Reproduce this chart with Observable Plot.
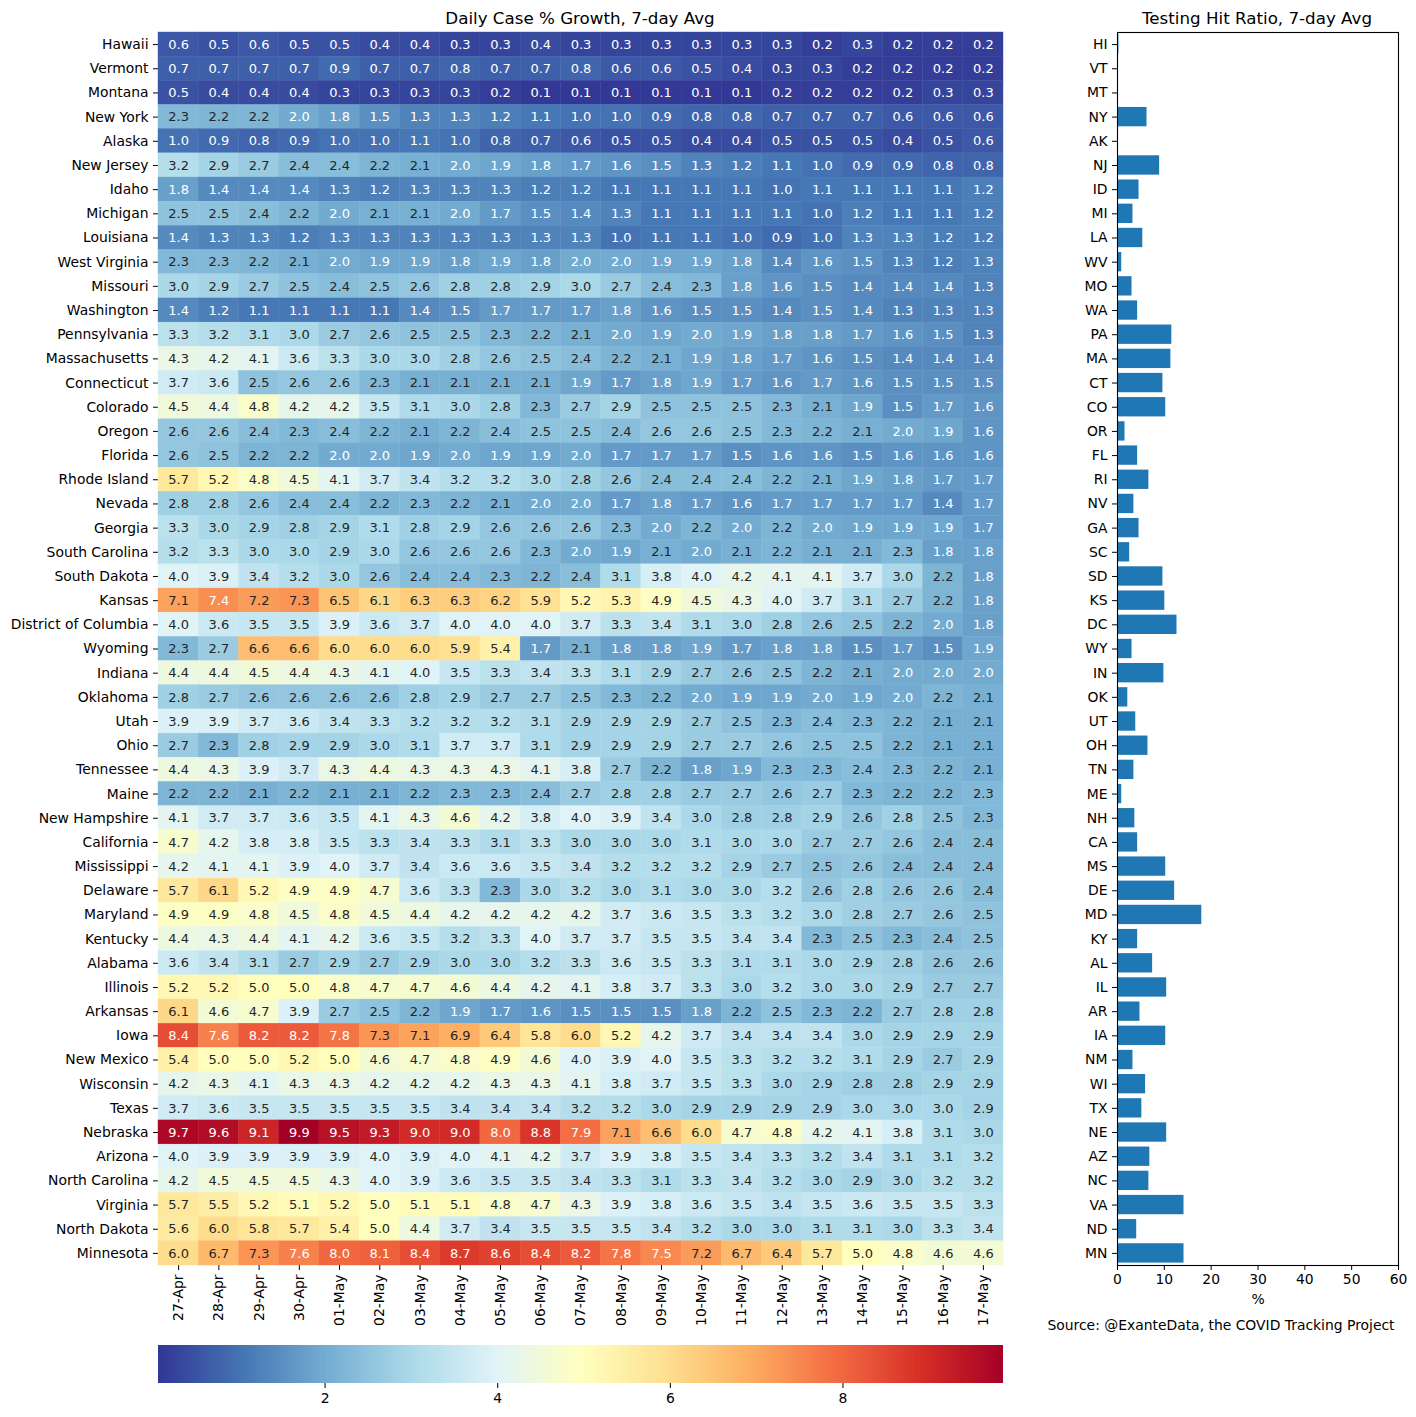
<!DOCTYPE html>
<html>
<head>
<meta charset="utf-8">
<script src="https://cdn.jsdelivr.net/npm/d3@7"></script>
<script src="https://cdn.jsdelivr.net/npm/@observablehq/plot@0.6"></script>
<style>
  body { margin: 0; background: #fff; font-family: "DejaVu Sans", sans-serif; }
  #fig { position: relative; width: 1416px; height: 1417px; overflow: hidden; }
  #fig > svg, #fig > div { position: absolute; }
  .title { font-size: 16.7px; line-height: 1; color: #000; white-space: nowrap; transform: translateX(-50%); }
  .caption { font-size: 13.9px; line-height: 1; color: #000; white-space: nowrap; transform: translateX(-50%); }
</style>
</head>
<body>
<div id="fig"></div>
<script>
// Dates (columns of the heatmap)
const dates = ["27-Apr","28-Apr","29-Apr","30-Apr","01-May","02-May","03-May","04-May","05-May","06-May",
  "07-May","08-May","09-May","10-May","11-May","12-May","13-May","14-May","15-May","16-May","17-May"];

// States, sorted by latest growth rate
const states = ["Hawaii","Vermont","Montana","New York","Alaska","New Jersey","Idaho","Michigan","Louisiana",
  "West Virginia","Missouri","Washington","Pennsylvania","Massachusetts","Connecticut","Colorado","Oregon",
  "Florida","Rhode Island","Nevada","Georgia","South Carolina","South Dakota","Kansas","District of Columbia",
  "Wyoming","Indiana","Oklahoma","Utah","Ohio","Tennessee","Maine","New Hampshire","California","Mississippi",
  "Delaware","Maryland","Kentucky","Alabama","Illinois","Arkansas","Iowa","New Mexico","Wisconsin","Texas",
  "Nebraska","Arizona","North Carolina","Virginia","North Dakota","Minnesota"];

const abbrevs = ["HI","VT","MT","NY","AK","NJ","ID","MI","LA","WV","MO","WA","PA","MA","CT","CO","OR","FL","RI",
  "NV","GA","SC","SD","KS","DC","WY","IN","OK","UT","OH","TN","ME","NH","CA","MS","DE","MD","KY","AL","IL",
  "AR","IA","NM","WI","TX","NE","AZ","NC","VA","ND","MN"];

// Daily case % growth, 7-day average (one row per state, one value per date)
const growth = [
  [0.6,0.5,0.6,0.5,0.5,0.4,0.4,0.3,0.3,0.4,0.3,0.3,0.3,0.3,0.3,0.3,0.2,0.3,0.2,0.2,0.2],
  [0.7,0.7,0.7,0.7,0.9,0.7,0.7,0.8,0.7,0.7,0.8,0.6,0.6,0.5,0.4,0.3,0.3,0.2,0.2,0.2,0.2],
  [0.5,0.4,0.4,0.4,0.3,0.3,0.3,0.3,0.2,0.1,0.1,0.1,0.1,0.1,0.1,0.2,0.2,0.2,0.2,0.3,0.3],
  [2.3,2.2,2.2,2.0,1.8,1.5,1.3,1.3,1.2,1.1,1.0,1.0,0.9,0.8,0.8,0.7,0.7,0.7,0.6,0.6,0.6],
  [1.0,0.9,0.8,0.9,1.0,1.0,1.1,1.0,0.8,0.7,0.6,0.5,0.5,0.4,0.4,0.5,0.5,0.5,0.4,0.5,0.6],
  [3.2,2.9,2.7,2.4,2.4,2.2,2.1,2.0,1.9,1.8,1.7,1.6,1.5,1.3,1.2,1.1,1.0,0.9,0.9,0.8,0.8],
  [1.8,1.4,1.4,1.4,1.3,1.2,1.3,1.3,1.3,1.2,1.2,1.1,1.1,1.1,1.1,1.0,1.1,1.1,1.1,1.1,1.2],
  [2.5,2.5,2.4,2.2,2.0,2.1,2.1,2.0,1.7,1.5,1.4,1.3,1.1,1.1,1.1,1.1,1.0,1.2,1.1,1.1,1.2],
  [1.4,1.3,1.3,1.2,1.3,1.3,1.3,1.3,1.3,1.3,1.3,1.0,1.1,1.1,1.0,0.9,1.0,1.3,1.3,1.2,1.2],
  [2.3,2.3,2.2,2.1,2.0,1.9,1.9,1.8,1.9,1.8,2.0,2.0,1.9,1.9,1.8,1.4,1.6,1.5,1.3,1.2,1.3],
  [3.0,2.9,2.7,2.5,2.4,2.5,2.6,2.8,2.8,2.9,3.0,2.7,2.4,2.3,1.8,1.6,1.5,1.4,1.4,1.4,1.3],
  [1.4,1.2,1.1,1.1,1.1,1.1,1.4,1.5,1.7,1.7,1.7,1.8,1.6,1.5,1.5,1.4,1.5,1.4,1.3,1.3,1.3],
  [3.3,3.2,3.1,3.0,2.7,2.6,2.5,2.5,2.3,2.2,2.1,2.0,1.9,2.0,1.9,1.8,1.8,1.7,1.6,1.5,1.3],
  [4.3,4.2,4.1,3.6,3.3,3.0,3.0,2.8,2.6,2.5,2.4,2.2,2.1,1.9,1.8,1.7,1.6,1.5,1.4,1.4,1.4],
  [3.7,3.6,2.5,2.6,2.6,2.3,2.1,2.1,2.1,2.1,1.9,1.7,1.8,1.9,1.7,1.6,1.7,1.6,1.5,1.5,1.5],
  [4.5,4.4,4.8,4.2,4.2,3.5,3.1,3.0,2.8,2.3,2.7,2.9,2.5,2.5,2.5,2.3,2.1,1.9,1.5,1.7,1.6],
  [2.6,2.6,2.4,2.3,2.4,2.2,2.1,2.2,2.4,2.5,2.5,2.4,2.6,2.6,2.5,2.3,2.2,2.1,2.0,1.9,1.6],
  [2.6,2.5,2.2,2.2,2.0,2.0,1.9,2.0,1.9,1.9,2.0,1.7,1.7,1.7,1.5,1.6,1.6,1.5,1.6,1.6,1.6],
  [5.7,5.2,4.8,4.5,4.1,3.7,3.4,3.2,3.2,3.0,2.8,2.6,2.4,2.4,2.4,2.2,2.1,1.9,1.8,1.7,1.7],
  [2.8,2.8,2.6,2.4,2.4,2.2,2.3,2.2,2.1,2.0,2.0,1.7,1.8,1.7,1.6,1.7,1.7,1.7,1.7,1.4,1.7],
  [3.3,3.0,2.9,2.8,2.9,3.1,2.8,2.9,2.6,2.6,2.6,2.3,2.0,2.2,2.0,2.2,2.0,1.9,1.9,1.9,1.7],
  [3.2,3.3,3.0,3.0,2.9,3.0,2.6,2.6,2.6,2.3,2.0,1.9,2.1,2.0,2.1,2.2,2.1,2.1,2.3,1.8,1.8],
  [4.0,3.9,3.4,3.2,3.0,2.6,2.4,2.4,2.3,2.2,2.4,3.1,3.8,4.0,4.2,4.1,4.1,3.7,3.0,2.2,1.8],
  [7.1,7.4,7.2,7.3,6.5,6.1,6.3,6.3,6.2,5.9,5.2,5.3,4.9,4.5,4.3,4.0,3.7,3.1,2.7,2.2,1.8],
  [4.0,3.6,3.5,3.5,3.9,3.6,3.7,4.0,4.0,4.0,3.7,3.3,3.4,3.1,3.0,2.8,2.6,2.5,2.2,2.0,1.8],
  [2.3,2.7,6.6,6.6,6.0,6.0,6.0,5.9,5.4,1.7,2.1,1.8,1.8,1.9,1.7,1.8,1.8,1.5,1.7,1.5,1.9],
  [4.4,4.4,4.5,4.4,4.3,4.1,4.0,3.5,3.3,3.4,3.3,3.1,2.9,2.7,2.6,2.5,2.2,2.1,2.0,2.0,2.0],
  [2.8,2.7,2.6,2.6,2.6,2.6,2.8,2.9,2.7,2.7,2.5,2.3,2.2,2.0,1.9,1.9,2.0,1.9,2.0,2.2,2.1],
  [3.9,3.9,3.7,3.6,3.4,3.3,3.2,3.2,3.2,3.1,2.9,2.9,2.9,2.7,2.5,2.3,2.4,2.3,2.2,2.1,2.1],
  [2.7,2.3,2.8,2.9,2.9,3.0,3.1,3.7,3.7,3.1,2.9,2.9,2.9,2.7,2.7,2.6,2.5,2.5,2.2,2.1,2.1],
  [4.4,4.3,3.9,3.7,4.3,4.4,4.3,4.3,4.3,4.1,3.8,2.7,2.2,1.8,1.9,2.3,2.3,2.4,2.3,2.2,2.1],
  [2.2,2.2,2.1,2.2,2.1,2.1,2.2,2.3,2.3,2.4,2.7,2.8,2.8,2.7,2.7,2.6,2.7,2.3,2.2,2.2,2.3],
  [4.1,3.7,3.7,3.6,3.5,4.1,4.3,4.6,4.2,3.8,4.0,3.9,3.4,3.0,2.8,2.8,2.9,2.6,2.8,2.5,2.3],
  [4.7,4.2,3.8,3.8,3.5,3.3,3.4,3.3,3.1,3.3,3.0,3.0,3.0,3.1,3.0,3.0,2.7,2.7,2.6,2.4,2.4],
  [4.2,4.1,4.1,3.9,4.0,3.7,3.4,3.6,3.6,3.5,3.4,3.2,3.2,3.2,2.9,2.7,2.5,2.6,2.4,2.4,2.4],
  [5.7,6.1,5.2,4.9,4.9,4.7,3.6,3.3,2.3,3.0,3.2,3.0,3.1,3.0,3.0,3.2,2.6,2.8,2.6,2.6,2.4],
  [4.9,4.9,4.8,4.5,4.8,4.5,4.4,4.2,4.2,4.2,4.2,3.7,3.6,3.5,3.3,3.2,3.0,2.8,2.7,2.6,2.5],
  [4.4,4.3,4.4,4.1,4.2,3.6,3.5,3.2,3.3,4.0,3.7,3.7,3.5,3.5,3.4,3.4,2.3,2.5,2.3,2.4,2.5],
  [3.6,3.4,3.1,2.7,2.9,2.7,2.9,3.0,3.0,3.2,3.3,3.6,3.5,3.3,3.1,3.1,3.0,2.9,2.8,2.6,2.6],
  [5.2,5.2,5.0,5.0,4.8,4.7,4.7,4.6,4.4,4.2,4.1,3.8,3.7,3.3,3.0,3.2,3.0,3.0,2.9,2.7,2.7],
  [6.1,4.6,4.7,3.9,2.7,2.5,2.2,1.9,1.7,1.6,1.5,1.5,1.5,1.8,2.2,2.5,2.3,2.2,2.7,2.8,2.8],
  [8.4,7.6,8.2,8.2,7.8,7.3,7.1,6.9,6.4,5.8,6.0,5.2,4.2,3.7,3.4,3.4,3.4,3.0,2.9,2.9,2.9],
  [5.4,5.0,5.0,5.2,5.0,4.6,4.7,4.8,4.9,4.6,4.0,3.9,4.0,3.5,3.3,3.2,3.2,3.1,2.9,2.7,2.9],
  [4.2,4.3,4.1,4.3,4.3,4.2,4.2,4.2,4.3,4.3,4.1,3.8,3.7,3.5,3.3,3.0,2.9,2.8,2.8,2.9,2.9],
  [3.7,3.6,3.5,3.5,3.5,3.5,3.5,3.4,3.4,3.4,3.2,3.2,3.0,2.9,2.9,2.9,2.9,3.0,3.0,3.0,2.9],
  [9.7,9.6,9.1,9.9,9.5,9.3,9.0,9.0,8.0,8.8,7.9,7.1,6.6,6.0,4.7,4.8,4.2,4.1,3.8,3.1,3.0],
  [4.0,3.9,3.9,3.9,3.9,4.0,3.9,4.0,4.1,4.2,3.7,3.9,3.8,3.5,3.4,3.3,3.2,3.4,3.1,3.1,3.2],
  [4.2,4.5,4.5,4.5,4.3,4.0,3.9,3.6,3.5,3.5,3.4,3.3,3.1,3.3,3.4,3.2,3.0,2.9,3.0,3.2,3.2],
  [5.7,5.5,5.2,5.1,5.2,5.0,5.1,5.1,4.8,4.7,4.3,3.9,3.8,3.6,3.5,3.4,3.5,3.6,3.5,3.5,3.3],
  [5.6,6.0,5.8,5.7,5.4,5.0,4.4,3.7,3.4,3.5,3.5,3.5,3.4,3.2,3.0,3.0,3.1,3.1,3.0,3.3,3.4],
  [6.0,6.7,7.3,7.6,8.0,8.1,8.4,8.7,8.6,8.4,8.2,7.8,7.5,7.2,6.7,6.4,5.7,5.0,4.8,4.6,4.6]
];

// Testing hit ratio (% of tests positive), 7-day average, same state order
const hitRatio = [0.3,0,0,6.3,0,9.0,4.6,3.3,5.4,0.9,3.1,4.3,11.6,11.4,9.7,10.3,1.6,4.3,6.7,3.5,4.6,2.6,9.7,10.1,
  12.7,3.1,9.9,2.2,3.9,6.5,3.5,0.9,3.7,4.3,10.3,12.2,18.0,4.3,7.5,10.5,4.8,10.3,3.3,6.0,5.2,10.5,6.9,6.7,14.2,4.1,14.2];

const colorbarTicks = [2, 4, 6, 8];
const hitTicks = [0, 10, 20, 30, 40, 50, 60];

// RdYlBu, reversed (blue = slow growth, red = fast growth)
const rdylbuR = ["#313695","#4575b4","#74add1","#abd9e9","#e0f3f8","#ffffbf","#fee090","#fdae61","#f46d43","#d73027","#a50026"];
const vmin = 0.07, vmax = 9.86;
const colorOpts = {
  type: "linear",
  domain: rdylbuR.map((_, i) => vmin + (vmax - vmin) * i / (rdylbuR.length - 1)),
  range: rdylbuR,
  interpolate: "rgb"
};

const cells = states.flatMap((s, i) => dates.map((d, j) => ({state: s, date: d, value: growth[i][j]})));
const bars = abbrevs.map((a, i) => ({abbr: a, ratio: hitRatio[i]}));

// light labels on the dark ends of the colormap
const lightText = d => d.value <= 2.0 || d.value >= 7.4;

const font = {fontFamily: "DejaVu Sans", fontSize: "13.9px", color: "#000", background: "transparent", overflow: "visible"};
const fig = document.getElementById("fig");

// Heatmap of daily growth
const heat = Plot.plot({
  width: 1010, height: 1340,
  marginLeft: 158, marginRight: 7, marginTop: 32, marginBottom: 75,
  style: font,
  x: {domain: dates, padding: 0, round: false, tickRotate: -90, tickSize: 5, tickPadding: 4, label: null},
  y: {domain: states, padding: 0, round: false, tickSize: 5, tickPadding: 5, label: null},
  color: colorOpts,
  marks: [
    Plot.cell(cells, {x: "date", y: "state", fill: "value", stroke: "value", strokeWidth: 0.4, inset: 0}),
    Plot.text(cells, {filter: d => !lightText(d), x: "date", y: "state", text: d => d.value.toFixed(1), fill: "#262626", fontSize: 13}),
    Plot.text(cells, {filter: lightText, x: "date", y: "state", text: d => d.value.toFixed(1), fill: "#ffffff", fontSize: 13})
  ]
});
heat.style.left = "0px"; heat.style.top = "0px";
fig.appendChild(heat);

// Colorbar beneath the heatmap: a smooth strip of thin color slices
const nSlices = 256;
const slices = d3.range(nSlices).map(i => ({
  a: vmin + (vmax - vmin) * i / nSlices,
  b: vmin + (vmax - vmin) * (i + 1) / nSlices,
  v: vmin + (vmax - vmin) * (i + 0.5) / nSlices
}));
const cbar = Plot.plot({
  width: 1010, height: 77,
  marginLeft: 158, marginRight: 7, marginTop: 5, marginBottom: 34,
  style: font,
  x: {domain: [vmin, vmax], ticks: colorbarTicks, tickFormat: d3.format("d"), tickSize: 5, tickPadding: 5, label: null},
  y: {domain: [0, 1], axis: null},
  color: colorOpts,
  marks: [
    Plot.rect(slices, {x1: "a", x2: "b", y1: 0, y2: 1, fill: "v", shapeRendering: "crispEdges"})
  ]
});
cbar.style.left = "0px"; cbar.style.top = "1340px";
fig.appendChild(cbar);

// Testing hit ratio bars
const bar = Plot.plot({
  width: 386, height: 1340,
  marginLeft: 87, marginRight: 18, marginTop: 32, marginBottom: 75,
  style: font,
  x: {domain: [0, 60], ticks: hitTicks, tickSize: 5, tickPadding: 4, label: "%", labelArrow: "none", labelAnchor: "center", labelOffset: 38},
  y: {domain: abbrevs, paddingInner: 0.2, paddingOuter: 0.1, round: false, tickSize: 5, tickPadding: 5, label: null},
  marks: [
    Plot.barX(bars, {x: "ratio", y: "abbr", fill: "#1f77b4"}),
    Plot.frame({stroke: "#000", strokeWidth: 1.1})
  ]
});
bar.style.left = "1030px"; bar.style.top = "0px";
fig.appendChild(bar);

// Titles and source line
function addText(cls, text, x, y) {
  const el = document.createElement("div");
  el.className = cls;
  el.textContent = text;
  el.style.left = x + "px";
  el.style.top = y + "px";
  fig.appendChild(el);
}
addText("title", "Daily Case % Growth, 7-day Avg", 580, 10);
addText("title", "Testing Hit Ratio, 7-day Avg", 1257, 10);
addText("caption", "Source: @ExanteData, the COVID Tracking Project", 1221, 1319);
</script>
</body>
</html>
